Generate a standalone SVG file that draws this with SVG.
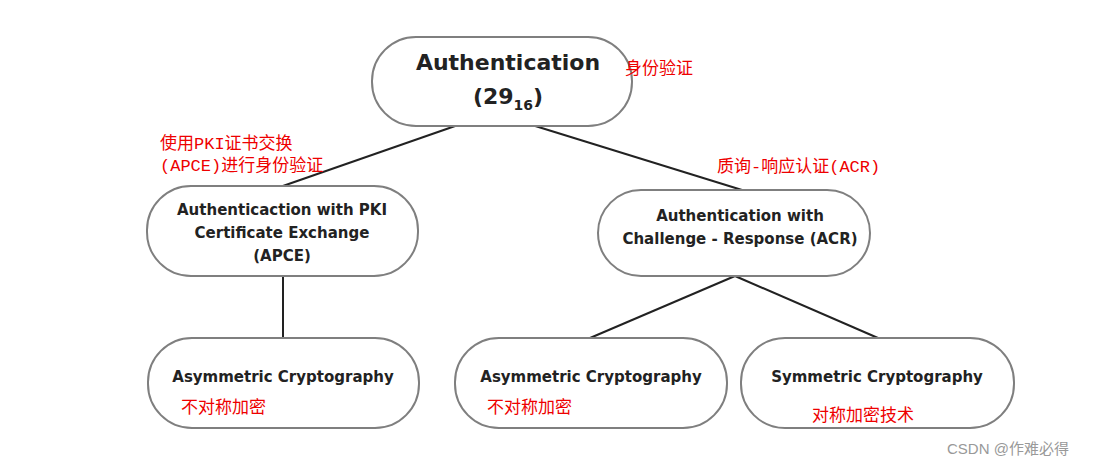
<svg xmlns="http://www.w3.org/2000/svg" width="1098" height="466" viewBox="0 0 1098 466">
<style>
.n{fill:#fff;stroke:#7f7f7f;stroke-width:2}
.t{font-family:"DejaVu Sans","Liberation Sans",sans-serif;font-weight:bold;fill:#222;text-anchor:middle;font-size:15px}
.r{font-family:"Liberation Mono","Noto Sans CJK SC",monospace;fill:#e00;font-size:17px}
.c{stroke:#222;stroke-width:2;fill:none}
</style>
<rect width="1098" height="466" fill="#fff"/>
<g id="connectors">
<line class="c" x1="458" y1="125" x2="280" y2="187"/>
<line class="c" x1="532" y1="125" x2="742" y2="190"/>
<line class="c" x1="283" y1="276" x2="283" y2="338"/>
<line class="c" x1="735" y1="276" x2="590" y2="338"/>
<line class="c" x1="735" y1="276" x2="878" y2="338"/>
</g>
<g id="root">
<rect class="n" x="372" y="37" width="260" height="89" rx="44"/>
<text class="t" x="508" y="70" style="font-size:22px">Authentication</text>
<text class="t" x="508" y="104" style="font-size:22px">(29<tspan font-size="14" dy="6">16</tspan><tspan dy="-6">)</tspan></text>
</g>
<text class="r" x="625" y="74">身份验证</text>
<g id="apce">
<rect class="n" x="147" y="186" width="271" height="90" rx="44"/>
<text class="t" x="282" y="215">Authenticaction with PKI</text>
<text class="t" x="282" y="238">Certificate Exchange</text>
<text class="t" x="282" y="261">(APCE)</text>
</g>
<text class="r" x="160" y="149">使用PKI证书交换</text>
<text class="r" x="160" y="171">(APCE)进行身份验证</text>
<g id="acr">
<rect class="n" x="598" y="190" width="272" height="86" rx="43"/>
<text class="t" x="740" y="221">Authentication with</text>
<text class="t" x="740" y="244">Challenge - Response (ACR)</text>
</g>
<text class="r" x="717" y="172">质询-响应认证(ACR)</text>
<g id="asym1">
<rect class="n" x="148" y="338" width="271" height="90" rx="44"/>
<text class="t" x="283" y="382">Asymmetric Cryptography</text>
<text class="r" x="181" y="413">不对称加密</text>
</g>
<g id="asym2">
<rect class="n" x="455" y="338" width="272" height="90" rx="44"/>
<text class="t" x="591" y="382">Asymmetric Cryptography</text>
<text class="r" x="487" y="413">不对称加密</text>
</g>
<g id="sym">
<rect class="n" x="741" y="338" width="273" height="90" rx="44"/>
<text class="t" x="877" y="382">Symmetric Cryptography</text>
<text class="r" x="812" y="421">对称加密技术</text>
</g>
<text x="947" y="454" style="font-family:'Liberation Sans','Noto Sans CJK SC',sans-serif;font-size:15px;fill:#999">CSDN @作难必得</text>
</svg>
